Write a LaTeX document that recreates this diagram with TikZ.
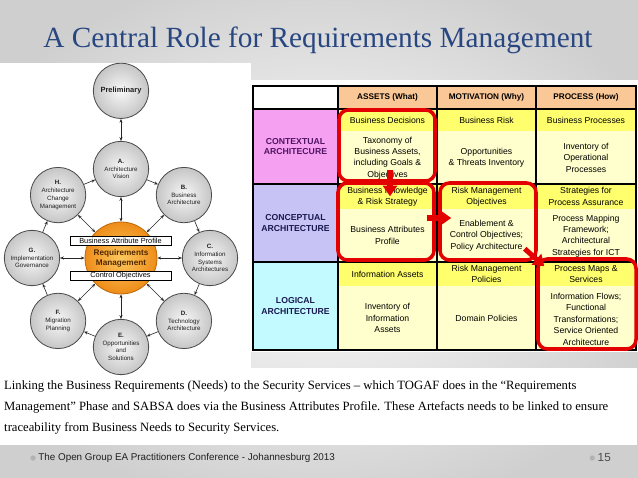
\documentclass[tikz,border=0pt]{standalone}
\usepackage{fontspec}
\setmainfont{Liberation Serif}
\setsansfont{Liberation Sans}
\usetikzlibrary{shapes,arrows.meta,positioning,calc}

\definecolor{titleblue}{RGB}{40,70,128}
\definecolor{markred}{RGB}{226,0,0}
\definecolor{hdrpeach}{RGB}{250,200,150}
\definecolor{ctxpink}{RGB}{245,160,240}
\definecolor{cnclav}{RGB}{200,195,245}
\definecolor{logcyan}{RGB}{195,250,255}
\definecolor{celltop}{RGB}{255,255,110}
\definecolor{cellbody}{RGB}{255,255,205}
\definecolor{ctxtxt}{RGB}{80,20,100}
\definecolor{cnctxt}{RGB}{25,25,80}
\definecolor{reqin}{RGB}{252,200,95}
\definecolor{reqout}{RGB}{238,140,25}
\definecolor{reqedge}{RGB}{190,105,10}
\definecolor{reqtxt}{RGB}{80,40,0}

\tikzstyle{phase}=[circle,draw=gray!60!black,line width=0.7pt,inner color=gray!6,outer color=gray!45,minimum size=1.66cm,inner sep=0pt,align=center,text=gray!25!black,font=\sffamily\fontsize{5.3}{6.6}\selectfont]
\tikzstyle{reqm}=[circle,draw=reqedge,line width=0.7pt,inner color=reqin,outer color=reqout,minimum size=2.16cm,inner sep=0pt,align=center,text=reqtxt,font=\sffamily\bfseries\fontsize{7}{8.5}\selectfont]
\tikzstyle{tagbox}=[rectangle,draw=black,fill=white,line width=0.6pt,minimum width=3.03cm,minimum height=0.27cm,inner sep=0pt,font=\sffamily\fontsize{6.3}{7}\selectfont]
\tikzstyle{cyc}=[-{Stealth[length=3.2pt,width=2.6pt]},line width=0.5pt,black!85]
\tikzstyle{link}=[{Stealth[length=3.2pt,width=2.6pt]}-{Stealth[length=3.2pt,width=2.6pt]},line width=0.5pt,black!85]
\tikzstyle{rowhead}=[align=center,font=\sffamily\bfseries\fontsize{7.4}{9.2}\selectfont]
\tikzstyle{colhead}=[align=center,font=\sffamily\bfseries\fontsize{7}{8}\selectfont]
\tikzstyle{tcell}=[align=center,font=\sffamily\fontsize{7.4}{9.8}\selectfont,inner sep=0pt]
\tikzstyle{tabline}=[line width=1.4pt,black]
\tikzstyle{zone}=[rectangle,draw=markred,line width=3pt,rounded corners=8pt]
\tikzstyle{redarr}=[markred,line width=4.3pt,-{Triangle[length=9pt,width=12pt]}]
\tikzstyle{notetxt}=[align=left,inner sep=0pt,font=\fontsize{10.8}{18.3}\selectfont]
\tikzstyle{foottxt}=[inner sep=0pt,text=gray!25!black,font=\sffamily\fontsize{8.4}{10}\selectfont]
\tikzstyle{dot}=[circle,fill=gray!60,minimum size=4.5pt,inner sep=0pt]

\begin{document}
\begin{tikzpicture}[x=0.03cm,y=-0.03cm]
\useasboundingbox (0,0) rectangle (638,478);
% slide
\shade[inner color=white,outer color=gray!38] (-60,-40) rectangle (698,518);
\fill[white] (0,63) rectangle (251,370);
\fill[white] (251,80) rectangle (638,352);
\fill[white] (0,368) rectangle (637,445);
\node[text=titleblue,font=\fontsize{25}{30}\selectfont] (title) at (318,40) {A Central Role for Requirements Management};

% ADM wheel
\node[reqm] (RM) at (121,258) {Requirements\\Management};
\foreach \nm/\ang/\txt in {A/-90/{\textbf{A.}\\Architecture\\Vision},
  B/-45/{\textbf{B.}\\Business\\Architecture},
  C/0/{\textbf{C.}\\Information\\Systems\\Architectures},
  D/45/{\textbf{D.}\\Technology\\Architecture},
  E/90/{\textbf{E.}\\Opportunities\\and\\Solutions},
  F/135/{\textbf{F.}\\Migration\\Planning},
  G/180/{\textbf{G.}\\Implementation\\Governance},
  H/225/{\textbf{H.}\\Architecture\\Change\\Management}}
  \node[phase] (\nm) at ($(RM)+(\ang:89)$) {\txt};
\node[phase,above=0.66cm of A,font=\sffamily\bfseries\fontsize{6.4}{7}\selectfont] (PRE) {Preliminary};
\draw[link] (PRE) -- (A);
\foreach \nm in {A,B,C,D,E,F,G,H}
  \draw[link] (RM) -- (\nm);
\foreach \a/\b in {A/B,B/C,C/D,D/E,E/F,F/G,G/H,H/A}
  \draw[cyc] (\a) -- (\b);
\node[tagbox] (BAP) at (120.5,241) {Business Attribute Profile};
\node[tagbox] (CO) at (120.5,275.5) {Control Objectives};

% SABSA matrix
\fill[white] (253,86) rectangle (338,109);
\fill[hdrpeach] (338,86) rectangle (636,109);
\fill[ctxpink] (253,109) rectangle (338,184);
\fill[cnclav] (253,184) rectangle (338,262);
\fill[logcyan] (253,262) rectangle (338,350);
\foreach \ya/\yb/\yc in {109/131/184,184/209/262,262/286/350} {
  \fill[celltop] (338,\ya) rectangle (636,\yb);
  \fill[cellbody] (338,\yb) rectangle (636,\yc);
}
\node[colhead] (hA) at (387.5,97.5) {ASSETS (What)};
\node[colhead] (hM) at (486.5,97.5) {MOTIVATION (Why)};
\node[colhead] (hP) at (586,97.5) {PROCESS (How)};
\node[rowhead,text=ctxtxt] (rCtx) at (295.5,146.5) {CONTEXTUAL\\ARCHITECURE};
\node[rowhead,text=cnctxt] (rCon) at (295.5,223) {CONCEPTUAL\\ARCHITECTURE};
\node[rowhead,text=cnctxt] (rLog) at (295.5,306) {LOGICAL\\ARCHITECTURE};
\node[tcell] (c11) at (387.5,120) {Business Decisions};
\node[tcell] (c12) at (387.5,158) {Taxonomy of\\Business Assets,\\including Goals \&\\Objectives};
\node[tcell] (c21) at (486.5,120) {Business Risk};
\node[tcell] (c22) at (486.5,157.5) {Opportunities\\\& Threats Inventory};
\node[tcell] (c31) at (586,120) {Business Processes};
\node[tcell] (c32) at (586,157.5) {Inventory of\\Operational\\Processes};
\node[tcell] (c13) at (387.5,196.5) {Business Knowledge\\\& Risk Strategy};
\node[tcell] (c14) at (387.5,235.5) {Business Attributes\\Profile};
\node[tcell] (c23) at (486.5,196.5) {Risk Management\\Objectives};
\node[tcell] (c24) at (486.5,235.5) {Enablement \&\\Control Objectives;\\Policy Architecture};
\node[tcell] (c33) at (586,196.5) {Strategies for\\Process Assurance};
\node[tcell] (c34) at (586,236) {Process Mapping\\Framework;\\Architectural\\Strategies for ICT};
\node[tcell] (c15) at (387.5,274) {Information Assets};
\node[tcell] (c16) at (387.5,318) {Inventory of\\Information\\Assets};
\node[tcell] (c25) at (486.5,274) {Risk Management\\Policies};
\node[tcell] (c26) at (486.5,318) {Domain Policies};
\node[tcell] (c35) at (586,274) {Process Maps \&\\Services};
\node[tcell] (c36) at (586,319) {Information Flows;\\Functional\\Transformations;\\Service Oriented\\Architecture};
\foreach \xx in {338,437,536}
  \draw[tabline] (\xx,86) -- (\xx,350);
\foreach \yy in {109,184,262}
  \draw[tabline] (253,\yy) -- (636,\yy);
\draw[tabline,line width=1.6pt] (253,86) rectangle (636,350);

% traced path
\node[zone,minimum width=2.88cm,minimum height=2.13cm] (r1) at (387,145.5) {};
\node[zone,minimum width=2.88cm,minimum height=2.31cm] (r2) at (386,221.5) {};
\node[zone,minimum width=2.88cm,minimum height=2.31cm] (r3) at (488,221.5) {};
\node[zone,minimum width=2.94cm,minimum height=2.7cm] (r4) at (587,304) {};
\draw[redarr] ($(r1.south)+(3,-13)$) -- ($(r2.north)+(4,15)$);
\draw[redarr] ($(r2.east)+(-9,-3.5)$) -- ($(r3.west)+(13,-3.5)$);
\draw[redarr] ($(r3.south east)+(-13,-13)$) -- ($(r4.north west)+(8,9)$);

% note and footer
\node[notetxt,anchor=north west] (note) at (4,380) {Linking the Business Requirements (Needs) to the Security Services -- which TOGAF does in the “Requirements\\Management" Phase and SABSA does via the Business Attributes Profile. These Artefacts needs to be linked to ensure\\traceability from Business Needs to Security Services.};
\node[dot] (fb) at (33,458) {};
\node[foottxt,right=2pt of fb] (foot) {The Open Group EA Practitioners Conference - Johannesburg 2013};
\node[foottxt,anchor=east,font=\sffamily\fontsize{10}{11}\selectfont,text=gray!60!black] (pg) at (611,458) {15};
\node[dot,left=2pt of pg] (pb) {};
\end{tikzpicture}
\end{document}
